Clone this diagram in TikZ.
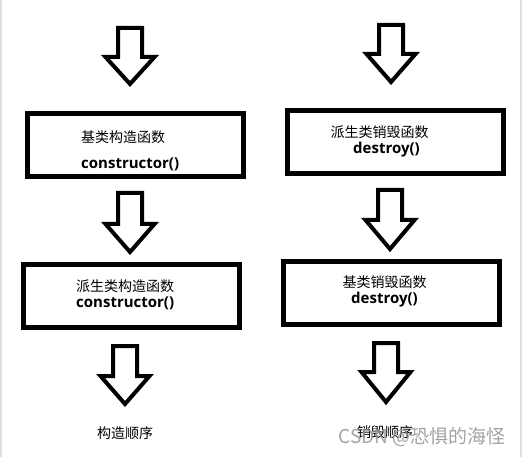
\documentclass[tikz,border=0pt]{standalone}
\usepackage{fontspec}
\setmainfont{Open Sans}
\newfontfamily\cjk{Noto Sans CJK SC}
\begin{document}
\begin{tikzpicture}[x=1pt,y=-1pt,
  arrowline/.style={draw=black,line width=4pt,miter limit=10,fill=white},
  boxline/.style={draw=black,line width=5pt,fill=white},
  cjktext/.style={font=\cjk\fontsize{14}{16}\selectfont,inner sep=0pt},
  codetext/.style={font=\bfseries\fontsize{15}{17}\selectfont,inner sep=0pt},
  watermark/.style={font=\cjk\fontsize{19}{21}\selectfont,text=black!42,opacity=0.85,inner sep=0pt}]
\useasboundingbox (0,0) rectangle (522,457);
\fill[white] (0,0) rectangle (522,457);
\draw[black!12,line width=1.5pt] (1,0) -- (1,457);
\draw[black!12,line width=1.5pt] (521,0) -- (521,457);
\newcommand\barrow[4]{%
  \draw[arrowline] (#1-12,#2+2) -- (#1+12,#2+2) -- (#1+12,#3+2) -- (#1+24.5,#3+2)
    -- (#1,#4-3) -- (#1-24.5,#3+2) -- (#1-12,#3+2) -- cycle;}
% arrows
\barrow{130}{26}{55}{87}
\barrow{130}{191}{222}{255}
\barrow{125}{344}{374}{407}
\barrow{391}{23}{52}{85}
\barrow{390}{188}{218}{252}
\barrow{386}{341}{370}{405}
% boxes
\draw[boxline] (27.5,113.5) rectangle (243.5,176.5);
\node[coordinate] (b1) at (135.5,145) {};
\draw[boxline] (287.5,110.5) rectangle (503.5,173.5);
\node[coordinate] (b2) at (395.5,142) {};
\draw[boxline] (23.5,264.5) rectangle (239.5,327.5);
\node[coordinate] (b3) at (131.5,296) {};
\draw[boxline] (283.5,261.5) rectangle (499.5,324.5);
\node[coordinate] (b4) at (391.5,293) {};
% texts
\node[cjktext,anchor=west] (t1a) at (81,137) {基类构造函数};
\node[codetext,anchor=west] (t1b) at (81,164) {constructor()};
\node[cjktext] (t2a) at (379.5,132) {派生类销毁函数};
\node[codetext] (t2b) at (386.5,150) {destroy()};
\node[cjktext,anchor=west] (t3a) at (76,286) {派生类构造函数};
\node[codetext,anchor=west] (t3b) at (76,303) {constructor()};
\node[cjktext] (t4a) at (384.5,282) {基类销毁函数};
\node[codetext] (t4b) at (384.5,300) {destroy()};
\node[cjktext] (l1) at (125,433) {构造顺序};
\node[cjktext] (l2) at (385,432) {销毁顺序};
\node[watermark,anchor=east] (wm) at (506,437) {CSDN @恐惧的海怪};
\end{tikzpicture}
\end{document}
